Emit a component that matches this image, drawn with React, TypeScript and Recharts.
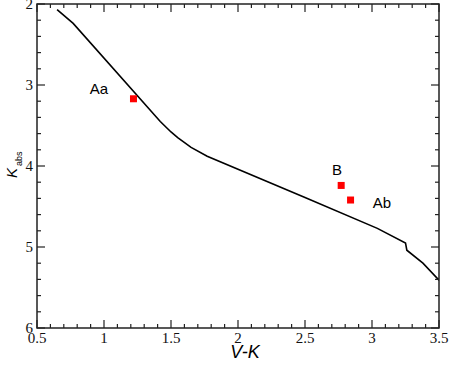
import React from 'react';
import { ComposedChart, Line, Scatter, XAxis, YAxis, ReferenceArea } from 'recharts';

// Evolutionary track (V-K vs K_abs)
const trackVK = [0.65, 0.77, 1.42, 1.5, 1.55, 1.65, 1.77, 2.5, 3.04, 3.25, 3.26, 3.38, 3.5];
const trackK = [2.07, 2.24, 3.45, 3.58, 3.65, 3.77, 3.88, 4.39, 4.77, 4.95, 5.04, 5.2, 5.41];

// Stars (red squares)
const starNames = ['Aa', 'B', 'Ab'];
const starVK = [1.22, 2.77, 2.84];
const starK = [3.17, 4.24, 4.42];

// Annotation positions for the star names
const labelVK = [0.963, 2.739, 3.075];
const labelK = [3.043, 4.043, 4.451];

// Axis ticks
const xTicks = [0.5, 0.6, 0.7, 0.8, 0.9, 1, 1.1, 1.2, 1.3, 1.4, 1.5, 1.6, 1.7, 1.8, 1.9, 2, 2.1, 2.2, 2.3, 2.4, 2.5, 2.6, 2.7, 2.8, 2.9, 3, 3.1, 3.2, 3.3, 3.4, 3.5];
const xMajor = [0.5, 1, 1.5, 2, 2.5, 3, 3.5];
const yTicks = [2, 2.2, 2.4, 2.6, 2.8, 3, 3.2, 3.4, 3.6, 3.8, 4, 4.2, 4.4, 4.6, 4.8, 5, 5.2, 5.4, 5.6, 5.8, 6];
const yMajor = [2, 3, 4, 5, 6];

const trackData = trackVK.map((x, i) => ({ x, y: trackK[i] }));
const starData = starVK.map((x, i) => ({ x, y: starK[i], name: starNames[i] }));
const labelData = labelVK.map((x, i) => ({ x, y: labelK[i], name: starNames[i] }));

const PLOT_W = 402;
const PLOT_H = 324;
const AXIS = '#222';
const SERIF = "'Liberation Serif', 'DejaVu Serif', serif";
const SANS = "'Liberation Sans', Arial, sans-serif";

const isMajor = (v: number, list: number[]) => list.some((m) => Math.abs(m - v) < 1e-6);

const XTick = (props: any) => {
  const { x, y, payload } = props;
  const v = payload.value;
  const major = isMajor(v, xMajor);
  const len = major ? 8 : 4;
  return (
    <g>
      <line x1={x} y1={y} x2={x} y2={y - len} stroke={AXIS} strokeWidth={1.2} />
      <line x1={x} y1={y - PLOT_H} x2={x} y2={y - PLOT_H + len} stroke={AXIS} strokeWidth={1.2} />
      {major && (
        <text x={x} y={y + 15} textAnchor="middle" style={{ fontFamily: SERIF, fontSize: 15 }} fill="#111">
          {String(v)}
        </text>
      )}
    </g>
  );
};

const YTick = (props: any) => {
  const { x, y, payload } = props;
  const v = payload.value;
  const major = isMajor(v, yMajor);
  const len = major ? 8 : 4;
  return (
    <g>
      <line x1={x} y1={y} x2={x + len} y2={y} stroke={AXIS} strokeWidth={1.2} />
      <line x1={x + PLOT_W} y1={y} x2={x + PLOT_W - len} y2={y} stroke={AXIS} strokeWidth={1.2} />
      {major && (
        <text x={x - 4} y={y + 5} textAnchor="end" style={{ fontFamily: SERIF, fontSize: 15 }} fill="#111">
          {String(v)}
        </text>
      )}
    </g>
  );
};

const StarShape = (props: any) => {
  const { cx, cy } = props;
  return <rect x={cx - 3.5} y={cy - 3.5} width={7} height={7} fill="#ff0000" />;
};

const NameShape = (props: any) => {
  const { cx, cy, payload } = props;
  return (
    <text x={cx} y={cy + 5.5} textAnchor="middle" style={{ fontFamily: SANS, fontSize: 15 }} fill="#000">
      {payload.name}
    </text>
  );
};

const XLabel = (props: any) => {
  const { viewBox } = props;
  const cx = viewBox.x + viewBox.width / 2 + 7;
  return (
    <text x={cx} y={358} textAnchor="middle" style={{ fontFamily: SANS, fontStyle: 'italic', fontSize: 18 }} fill="#000">
      V-K
    </text>
  );
};

const YLabel = () => (
  <text x={17} y={178} transform="rotate(-90, 17, 178)" style={{ fontFamily: SANS }} fill="#000">
    <tspan style={{ fontSize: 15, fontStyle: 'italic' }}>K</tspan>
    <tspan style={{ fontSize: 9 }} dx={2} dy={5}>abs</tspan>
  </text>
);

export default function App() {
  return (
    <div style={{ position: 'absolute', left: 0, top: 0, width: 474, height: 366, background: '#fff' }}>
      <ComposedChart width={474} height={366} margin={{ top: 4, right: 35, bottom: 0, left: 0 }}>
        <XAxis
          type="number"
          dataKey="x"
          domain={[0.5, 3.5]}
          ticks={xTicks}
          interval={0}
          allowDataOverflow
          height={38}
          axisLine={false}
          tickLine={false}
          tickSize={0}
          tickMargin={0}
          tick={<XTick />}
          label={<XLabel />}
        />
        <YAxis
          type="number"
          dataKey="y"
          domain={[2, 6]}
          reversed
          ticks={yTicks}
          interval={0}
          allowDataOverflow
          width={37}
          axisLine={false}
          tickLine={false}
          tickSize={0}
          tickMargin={0}
          tick={<YTick />}
          label={<YLabel />}
        />
        <ReferenceArea x1={0.5} x2={3.5} y1={2} y2={6} fill="none" stroke={AXIS} strokeWidth={1.5} />
        <Line
          data={trackData}
          dataKey="y"
          type="linear"
          stroke="#000"
          strokeWidth={1.6}
          dot={false}
          activeDot={false}
          isAnimationActive={false}
        />
        <Scatter data={starData} dataKey="y" shape={<StarShape />} isAnimationActive={false} />
        <Scatter data={labelData} dataKey="y" shape={<NameShape />} isAnimationActive={false} />
      </ComposedChart>
    </div>
  );
}
